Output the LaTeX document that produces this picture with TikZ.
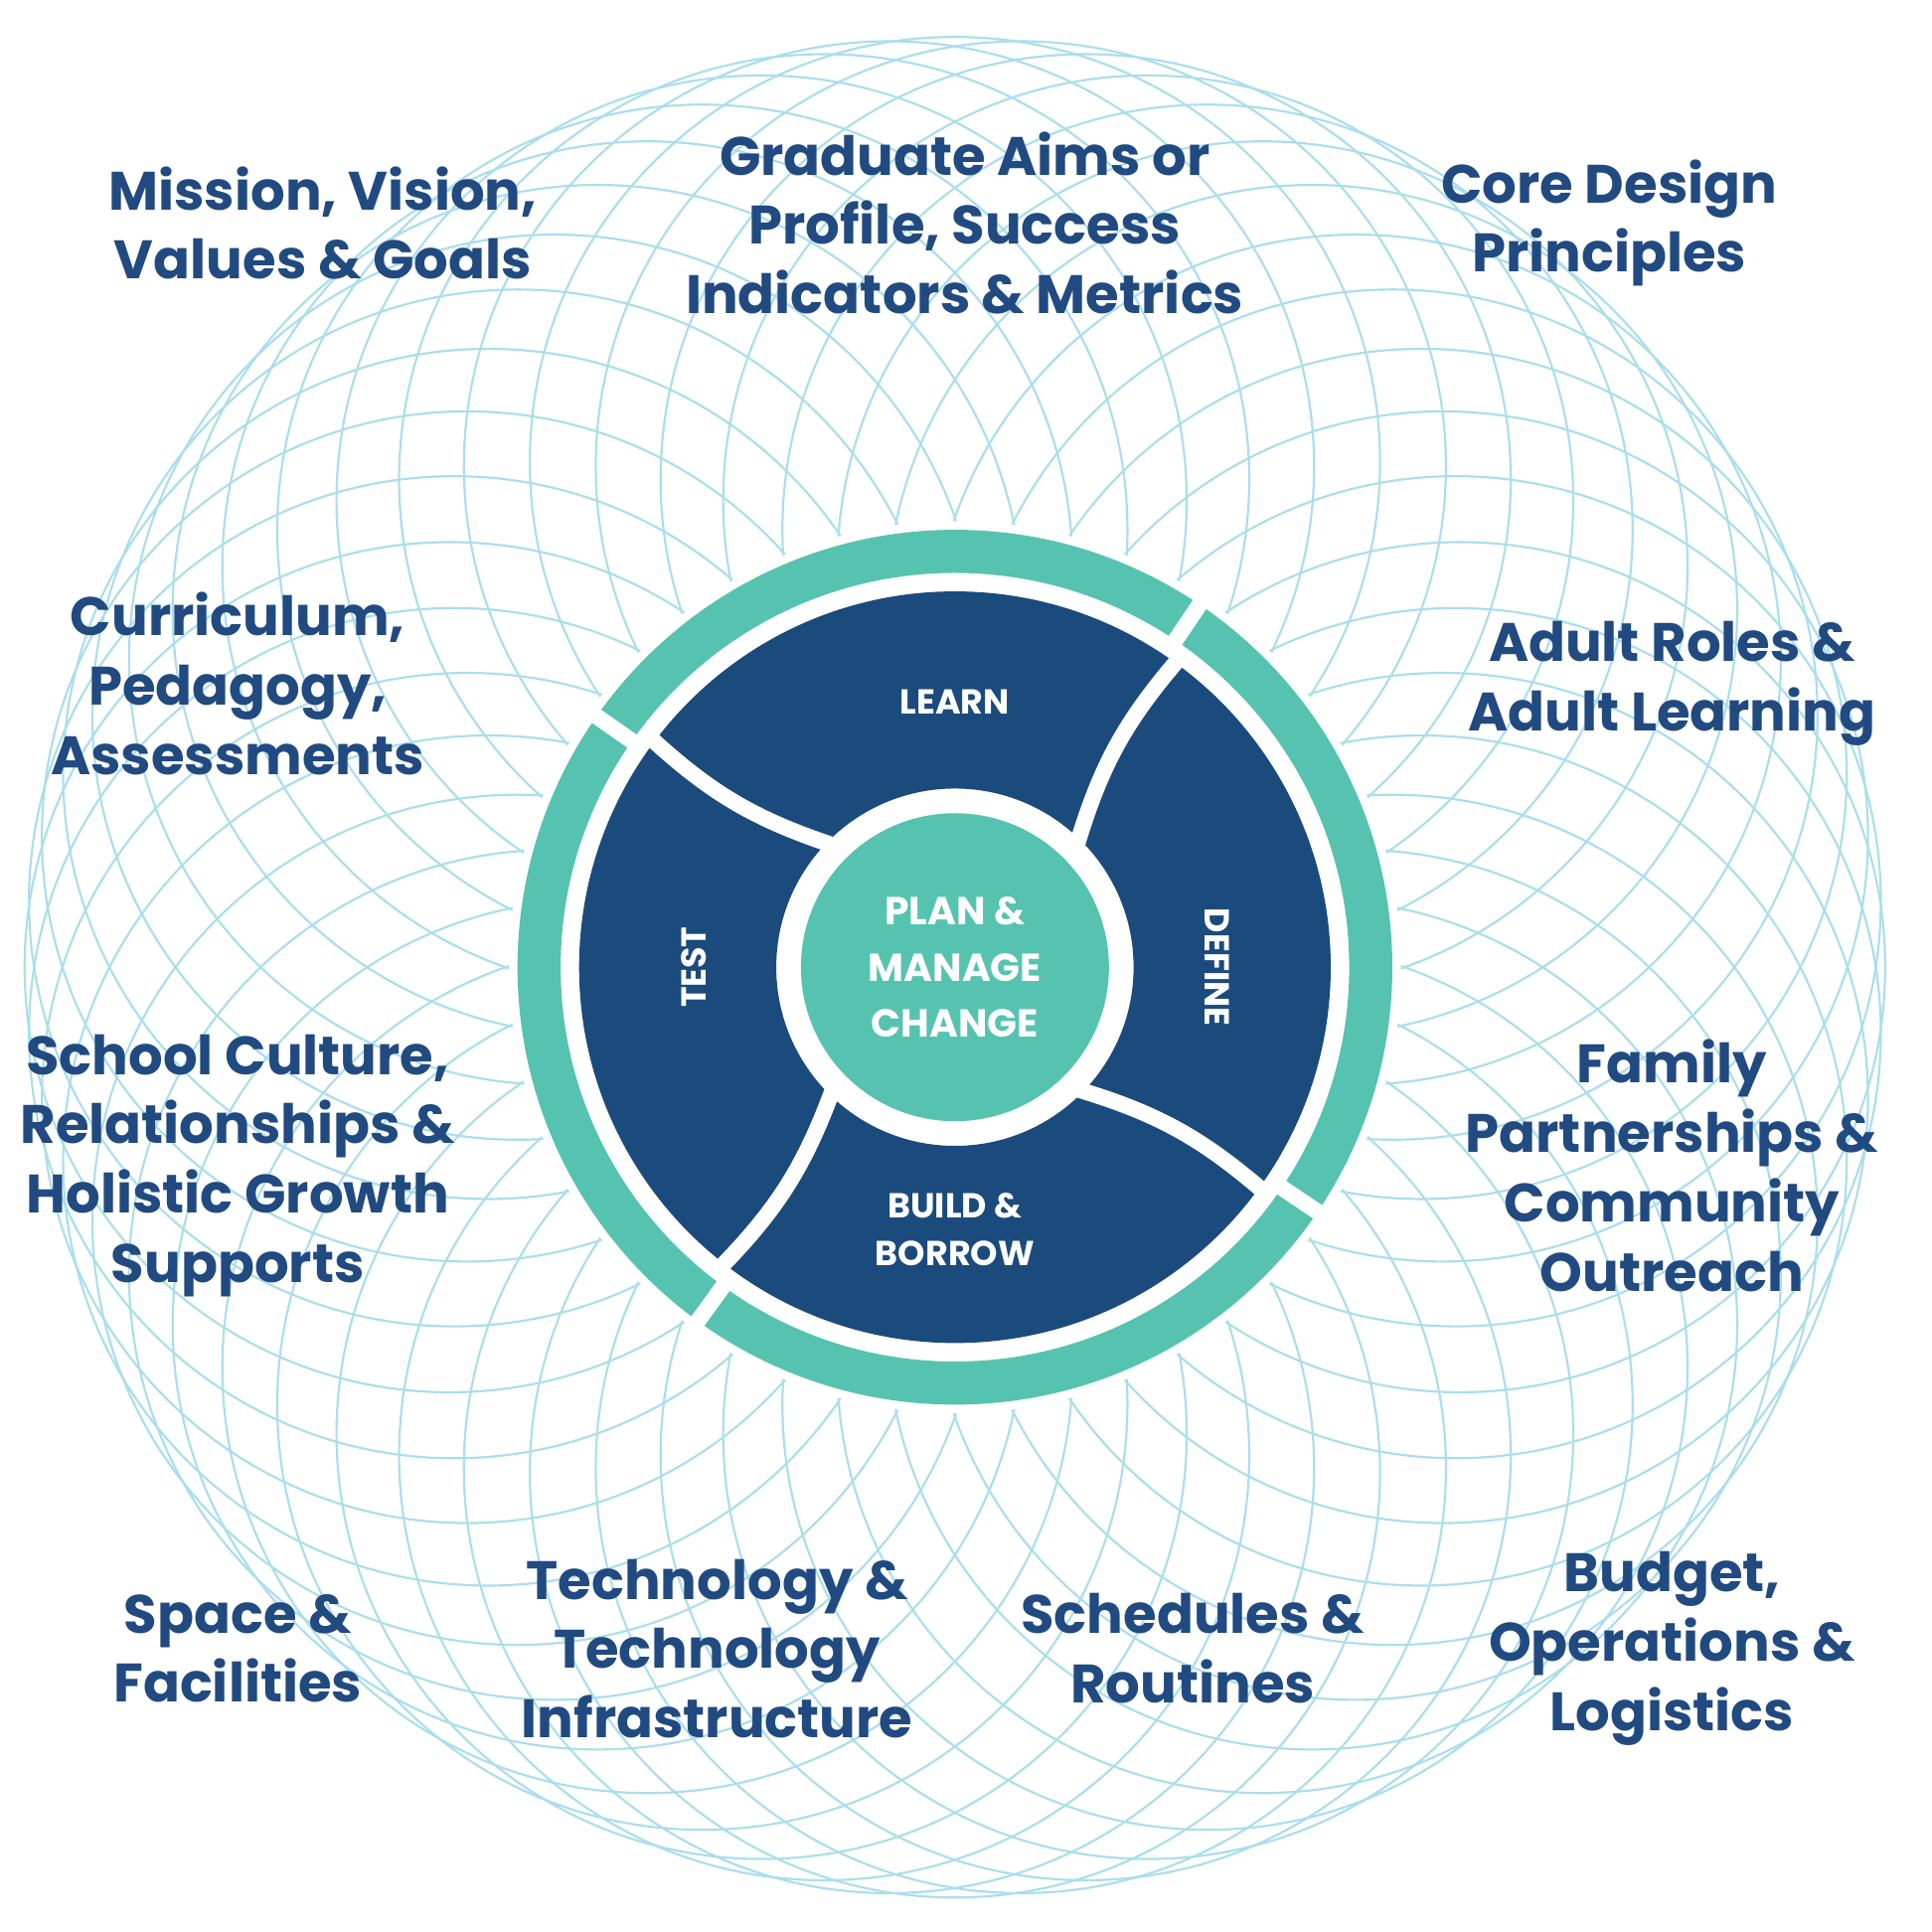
\documentclass[tikz,border=0pt]{standalone}
\usepackage{fontspec}
\setmainfont{Poppins}
\usetikzlibrary{positioning,calc}
\definecolor{ringteal}{RGB}{86,195,176}
\definecolor{wheelnavy}{RGB}{27,74,125}
\definecolor{labelnavy}{RGB}{32,74,128}
\definecolor{petalblue}{RGB}{170,222,236}
\tikzset{
  area/.style={font=\fontsize{12.5}{16}\selectfont\bfseries, text=labelnavy, align=center},
  phase/.style={font=\fontsize{8}{11}\selectfont\bfseries, text=white, align=center}
}

\begin{document}
\begin{tikzpicture}
  \useasboundingbox (0,0) rectangle (15.68,15.68);
  \coordinate (hub) at (7.75,7.83);

  % Petals
  \foreach \a in {0,7.5,...,352.5} {
    \draw[petalblue, line width=0.5pt] ($(hub)+(\a:4.1)$) circle (3.45);
  }

  % Wheel
  \fill[white] (hub) circle (3.62);
  \fill[ringteal, even odd rule] (hub) circle (3.55) (hub) circle (3.2);
  \fill[wheelnavy, even odd rule] (hub) circle (3.05) (hub) circle (1.45);
  \fill[ringteal] (hub) circle (1.25);
  \foreach \i/\o in {45/54,135/143,225/232,315/324} {
    \draw[white, line width=1.3mm] ($(hub)+(\i:1.4)$) to[bend left=12] ($(hub)+(\o:3.1)$);
    \draw[white, line width=1.3mm] ($(hub)+(\o+2:3.15)$) -- ($(hub)+(\o+2:3.6)$);
  }

  % Phases
  \node[phase] (learn) at ($(hub)+(0,2.15)$) {LEARN};
  \node[phase, rotate=-90] (define) at ($(hub)+(2.13,0)$) {DEFINE};
  \node[phase] (build) at ($(hub)+(0,-2.13)$) {BUILD \&\\BORROW};
  \node[phase, rotate=90] (test) at ($(hub)+(-2.12,0)$) {TEST};
  \node[phase, font=\fontsize{9}{13}\selectfont\bfseries] (plan) at (hub) {PLAN \&\\MANAGE\\CHANGE};

  % Design areas
  \node[area] (mission) at (2.62,13.87) {Mission, Vision,\\Values \& Goals};
  \node[area] (graduate) at (7.83,13.87) {Graduate Aims or\\Profile, Success\\Indicators \& Metrics};
  \node[area] (core) at (13.06,13.87) {Core Design\\Principles};
  \node[area] (curriculum) at (1.93,10.13) {Curriculum,\\Pedagogy,\\Assessments};
  \node[area] (adult) at (13.57,10.13) {Adult Roles \&\\Adult Learning};
  \node[area] (culture) at (1.93,6.22) {School Culture,\\Relationships \&\\Holistic Growth\\Supports};
  \node[area] (family) at (13.57,6.22) {Family\\Partnerships \&\\Community\\Outreach};
  \node[area] (space) at (1.93,2.30) {Space \&\\Facilities};
  \node[area] (tech) at (5.82,2.30) {Technology \&\\Technology\\Infrastructure};
  \node[area] (schedules) at (9.68,2.30) {Schedules \&\\Routines};
  \node[area] (budget) at (13.57,2.30) {Budget,\\Operations \&\\Logistics};
\end{tikzpicture}
\end{document}
